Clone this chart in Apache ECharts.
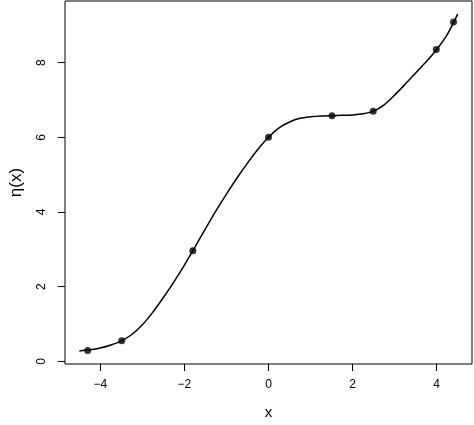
<!DOCTYPE html>
<html>
<head>
<meta charset="utf-8">
<script src="https://cdn.jsdelivr.net/npm/echarts@6/dist/echarts.min.js"></script>
<style>
  html, body { margin: 0; padding: 0; background: #fff; }
  #chart { width: 474px; height: 425px; }
</style>
</head>
<body>
<div id="chart"></div>
<script>
    // observed points
    var pointX = [-4.3, -3.49, -1.8, 0, 1.51, 2.49, 3.99, 4.4];
    var pointY = [0.29, 0.55, 2.96, 6.0, 6.58, 6.70, 8.35, 9.09];
    // fitted curve, every 0.25
    var curveX = [-4.5, -4.25, -4.0, -3.75, -3.5, -3.25, -3.0, -2.75, -2.5, -2.25, -2.0, -1.75, -1.5, -1.25, -1.0, -0.75, -0.5, -0.25,
                  0, 0.25, 0.5, 0.75, 1.0, 1.25, 1.5, 1.75, 2.0, 2.25, 2.5, 2.75, 3.0, 3.25, 3.5, 3.75, 4.0, 4.25, 4.5];
    var curveY = [0.28, 0.31, 0.36, 0.44, 0.55, 0.72, 0.98, 1.32, 1.71, 2.13, 2.58, 3.06, 3.55, 4.03, 4.48, 4.91, 5.31, 5.68,
                  6.0, 6.25, 6.41, 6.51, 6.55, 6.57, 6.58, 6.59, 6.60, 6.63, 6.70, 6.87, 7.13, 7.42, 7.72, 8.02, 8.35, 8.75, 9.30];
    var xTicks = [-4, -2, 0, 2, 4];
    var yTicks = [0, 2, 4, 6, 8];

    var font = "Liberation Sans, Arial, Helvetica, sans-serif";
    function minus(v) {
        return String(v).replace('-', '\u2212');
    }
    function pairs(xs, ys) {
        return xs.map(function (x, i) { return [x, ys[i]]; });
    }

    var chart = echarts.init(document.getElementById('chart'));
    var option = {
        backgroundColor: '#fff',
        animation: false,
        grid: {
            show: true,
            left: 59,
            right: 2,
            top: 1,
            bottom: 54,
            borderColor: '#000',
            borderWidth: 1
        },
        xAxis: {
            type: 'value',
            min: -4.84,
            max: 4.84,
            name: 'x',
            nameLocation: 'middle',
            nameGap: 41,
            nameTextStyle: { color: '#000', fontSize: 15, fontFamily: font },
            axisLine: { show: false, onZero: false },
            splitLine: { show: false },
            axisTick: {
                show: true,
                length: 7,
                lineStyle: { color: '#000' },
                customValues: xTicks
            },
            axisLabel: {
                color: '#000',
                fontSize: 12,
                fontFamily: font,
                margin: 15,
                customValues: xTicks,
                formatter: minus
            }
        },
        yAxis: {
            type: 'value',
            min: -0.07,
            max: 9.65,
            name: 'η(x)',
            nameLocation: 'middle',
            nameGap: 40,
            nameTextStyle: { color: '#000', fontSize: 17, fontFamily: font },
            axisLine: { show: false, onZero: false },
            splitLine: { show: false },
            axisTick: {
                show: true,
                length: 7,
                lineStyle: { color: '#000' },
                customValues: yTicks
            },
            axisLabel: {
                color: '#000',
                fontSize: 12,
                fontFamily: font,
                margin: 17,
                rotate: 90,
                customValues: yTicks,
                formatter: minus
            }
        },
        series: [
            {
                type: 'line',
                data: pairs(curveX, curveY),
                smooth: 0.3,
                showSymbol: false,
                lineStyle: { color: '#000', width: 1.5 },
                z: 2
            },
            {
                type: 'scatter',
                data: pairs(pointX, pointY),
                symbol: 'circle',
                symbolSize: 7,
                itemStyle: { color: '#000' },
                z: 3
            }
        ]
    };
    chart.setOption(option);
</script>
</body>
</html>
